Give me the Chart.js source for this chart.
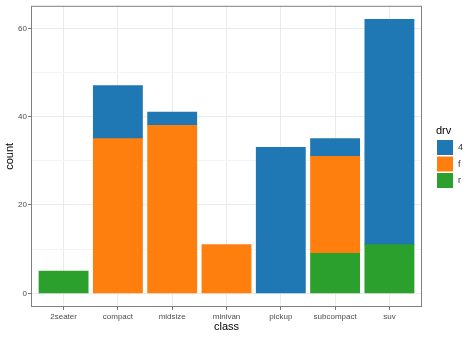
<!DOCTYPE html>
<html>
<head>
<meta charset="utf-8">
<script src="https://cdn.jsdelivr.net/npm/chart.js@4"></script>
<style>
  html, body { margin: 0; padding: 0; background: #fff; }
  #wrap { width: 474px; height: 338px; position: relative; }
</style>
</head>
<body>
<div id="wrap"><canvas id="myChart" width="474" height="338"></canvas></div>
<script>
// mpg: count of cars per class, split by drive train
const categories = ["2seater", "compact", "midsize", "minivan", "pickup", "subcompact", "suv"];
const drv4 = [0, 12, 3, 0, 33, 4, 51];
const drvF = [0, 35, 38, 11, 0, 22, 0];
const drvR = [5, 0, 0, 0, 0, 9, 11];
const yTicks = [0, 10, 20, 30, 40, 50, 60];
const legendLabels = ["4", "f", "r"];
const colors = { "4": "#1f77b4", "f": "#ff7f0e", "r": "#2ca02c" };

// zero counts become null so no empty sliver is drawn
const toPoints = (vals) => vals.map((v, i) => ({ x: i, y: v === 0 ? null : v }));

// panel border + legend, drawn by hand to look like ggplot
const ggExtras = {
  id: "ggExtras",
  afterDraw(chart) {
    const { ctx, chartArea } = chart;
    ctx.save();
    ctx.strokeStyle = "#808080";
    ctx.lineWidth = 1;
    ctx.strokeRect(chartArea.left + 0.5, chartArea.top + 0.5,
      chartArea.right - chartArea.left - 1, chartArea.bottom - chartArea.top - 1);

    ctx.fillStyle = "#000";
    ctx.font = "11px 'Liberation Sans', Arial, sans-serif";
    ctx.textBaseline = "alphabetic";
    ctx.fillText("drv", 436, 134);
    ctx.font = "9px 'Liberation Sans', Arial, sans-serif";
    ctx.textBaseline = "middle";
    legendLabels.forEach((lab, i) => {
      const y = 140 + i * 16.5;
      ctx.fillStyle = colors[lab];
      ctx.fillRect(437, y, 16, 15);
      ctx.fillStyle = "#333";
      ctx.fillText(lab, 458, y + 8);
    });
    ctx.restore();
  }
};

const ctx = document.getElementById("myChart").getContext("2d");
const myChart = new Chart(ctx, {
  type: "bar",
  data: {
    datasets: [
      { label: "r", data: toPoints(drvR), backgroundColor: colors["r"] },
      { label: "f", data: toPoints(drvF), backgroundColor: colors["f"] },
      { label: "4", data: toPoints(drv4), backgroundColor: colors["4"] },
    ],
  },
  options: {
    responsive: false,
    animation: false,
    events: [],
    barPercentage: 0.9,
    categoryPercentage: 1,
    borderWidth: 0,
    inflateAmount: 0.5,
    layout: { padding: { top: 5, right: 52, left: 0, bottom: 0 } },
    plugins: { legend: { display: false }, tooltip: { enabled: false } },
    scales: {
      x: {
        type: "linear",
        stacked: true,
        offset: false,
        min: -0.6,
        max: 6.6,
        afterBuildTicks: (scale) => {
          scale.ticks = categories.map((c, i) => ({ value: i }));
        },
        afterFit: (scale) => { scale.height = 31; },
        border: { display: false },
        grid: { offset: false, color: "#ebebeb", lineWidth: 1, tickLength: 3, tickColor: "#777", drawOnChartArea: true },
        ticks: {
          padding: 2,
          color: "#4d4d4d",
          font: { family: "'Liberation Sans', Arial, sans-serif", size: 8 },
          callback: (v) => categories[v],
          maxRotation: 0,
          autoSkip: false,
        },
        title: {
          display: true,
          text: "class",
          color: "#000",
          font: { family: "'Liberation Sans', Arial, sans-serif", size: 11 },
          padding: { top: 0, bottom: 4 },
        },
      },
      y: {
        stacked: true,
        min: -3.1,
        max: 65.1,
        afterBuildTicks: (scale) => {
          scale.ticks = yTicks.map((v) => ({ value: v }));
        },
        afterFit: (scale) => { scale.width = 31; },
        border: { display: false },
        grid: {
          color: (c) => (c.tick && c.tick.value % 20 === 0 ? "#ebebeb" : "#f4f4f4"),
          lineWidth: 1,
          tickLength: 3,
          tickColor: (c) => (c.tick && c.tick.value % 20 === 0 ? "#777" : "rgba(0,0,0,0)"),
        },
        ticks: {
          padding: 1,
          color: "#4d4d4d",
          font: { family: "'Liberation Sans', Arial, sans-serif", size: 8 },
          callback: (v) => (v % 20 === 0 ? v : ""),
        },
        title: {
          display: true,
          text: "count",
          color: "#000",
          font: { family: "'Liberation Sans', Arial, sans-serif", size: 11 },
          padding: { top: 3, bottom: 0 },
        },
      },
    },
  },
  plugins: [ggExtras],
});
</script>
</body>
</html>
